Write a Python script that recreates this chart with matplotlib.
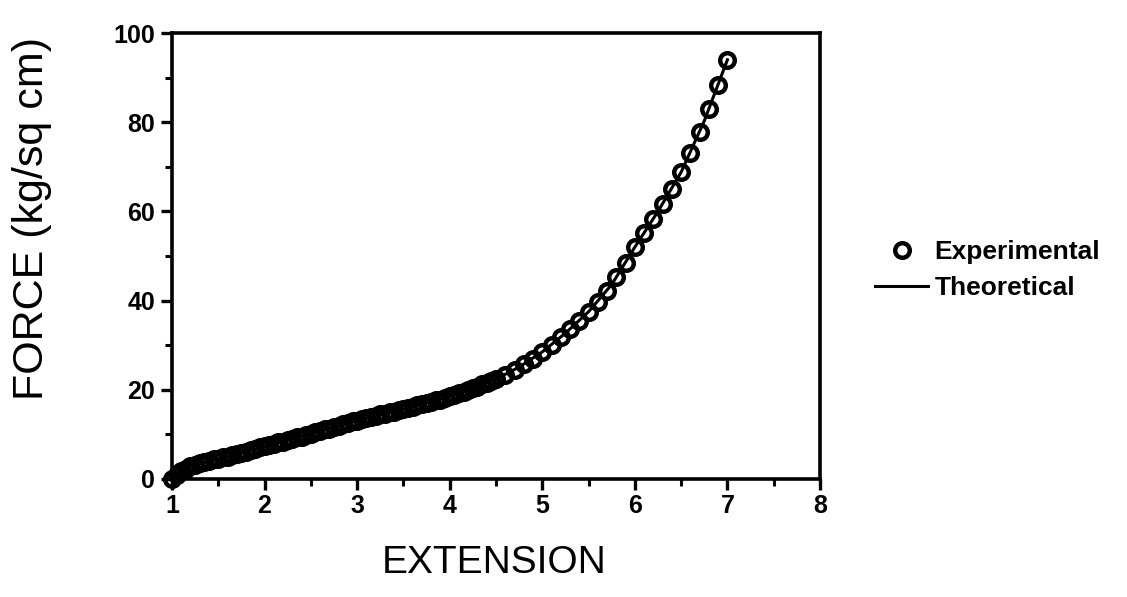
import matplotlib
matplotlib.use("Agg")
import matplotlib.pyplot as plt
from matplotlib.ticker import MultipleLocator

plt.rcParams['font.family'] = ['Liberation Sans', 'DejaVu Sans']

# Experimental data (extension, force)
ext_exp = [1.00, 1.05, 1.10, 1.15, 1.20, 1.25, 1.30, 1.35, 1.40, 1.45,
           1.50, 1.55, 1.60, 1.65, 1.70, 1.75, 1.80, 1.85, 1.90, 1.95,
           2.00, 2.05, 2.10, 2.15, 2.20, 2.25, 2.30, 2.35, 2.40, 2.45,
           2.50, 2.55, 2.60, 2.65, 2.70, 2.75, 2.80, 2.85, 2.90, 2.95,
           3.00, 3.05, 3.10, 3.15, 3.20, 3.25, 3.30, 3.35, 3.40, 3.45,
           3.50, 3.55, 3.60, 3.65, 3.70, 3.75, 3.80, 3.85, 3.90, 3.95,
           4.00, 4.05, 4.10, 4.15, 4.20, 4.25, 4.30, 4.35, 4.40, 4.45,
           4.50, 4.60, 4.70, 4.80, 4.90, 5.00, 5.10, 5.20, 5.30, 5.40,
           5.50, 5.60, 5.70, 5.80, 5.90, 6.00, 6.10, 6.20, 6.30, 6.40,
           6.50, 6.60, 6.70, 6.80, 6.90, 7.00]
force_exp = [0.0, 0.9, 1.8, 2.2, 2.9, 3.1, 3.6, 3.7, 4.0, 4.4,
             4.5, 4.9, 5.0, 5.4, 5.5, 5.9, 6.1, 6.5, 6.7, 7.1,
             7.3, 7.6, 7.8, 8.2, 8.3, 8.7, 8.9, 9.3, 9.5, 9.9,
             10.1, 10.5, 10.7, 11.1, 11.3, 11.7, 11.9, 12.3, 12.5, 12.9,
             13.1, 13.4, 13.6, 14.0, 14.1, 14.5, 14.6, 15.0, 15.1, 15.5,
             15.6, 15.9, 16.1, 16.5, 16.7, 17.0, 17.2, 17.6, 17.8, 18.2,
             18.5, 18.8, 19.2, 19.6, 19.9, 20.3, 20.7, 21.2, 21.5, 22.0,
             22.4, 23.4, 24.5, 25.7, 27.0, 28.5, 30.1, 31.8, 33.7, 35.5,
             37.5, 39.7, 42.1, 45.2, 48.5, 52.0, 55.2, 58.4, 61.6, 65.0,
             68.8, 73.2, 77.8, 82.9, 88.4, 94.0]

# Theoretical curve
ext_th = [1.0, 1.1, 1.2, 1.3, 1.5, 1.75, 2.0, 2.5, 3.0, 3.5, 4.0, 4.25, 4.5,
          4.75, 5.0, 5.25, 5.5, 5.75, 6.0, 6.25, 6.5, 6.75, 7.0]
force_th = [0.0, 1.6, 2.7, 3.4, 4.5, 5.8, 7.3, 10.1, 13.1, 15.6, 18.5, 20.3, 22.4,
            25.1, 28.5, 32.7, 37.5, 43.6, 52.0, 60.0, 68.8, 80.3, 94.0]

x_ticks = [1, 2, 3, 4, 5, 6, 7, 8]
y_ticks = [0, 20, 40, 60, 80, 100]

fig = plt.figure(figsize=(11.27, 5.97), dpi=100)
ax = fig.add_axes([0.1526, 0.1977, 0.5750, 0.7470])

ax.plot(ext_th, force_th, color='black', lw=2.2, label='Theoretical', zorder=2)
ax.plot(ext_exp, force_exp, linestyle='none', marker='o', markersize=10.5,
        markerfacecolor='none', markeredgecolor='black', markeredgewidth=3.2,
        label='Experimental', zorder=3, clip_on=False)

ax.set_xlim(1, 8)
ax.set_ylim(0, 100)
ax.set_xticks(x_ticks)
ax.set_yticks(y_ticks)
ax.xaxis.set_minor_locator(MultipleLocator(0.5))
ax.yaxis.set_minor_locator(MultipleLocator(10))
ax.tick_params(which='major', direction='out', length=8, width=2.4,
               labelsize=18, pad=3)
ax.tick_params(axis='y', which='major', pad=4)
ax.tick_params(which='minor', direction='out', length=5, width=2.2)
for lab in ax.get_xticklabels() + ax.get_yticklabels():
    lab.set_fontweight('bold')
for s in ax.spines.values():
    s.set_linewidth(2.6)

ax.set_xlabel('EXTENSION', fontsize=28)
ax.xaxis.set_label_coords(0.497, -0.148)
ax.set_ylabel('FORCE (kg/sq cm)', fontsize=31)
ax.yaxis.set_label_coords(-0.185, 0.585)

handles, labels = ax.get_legend_handles_labels()
order = [1, 0]
leg = fig.legend([handles[i] for i in order], [labels[i] for i in order],
                 loc='center left', bbox_to_anchor=(0.7555, 0.548),
                 frameon=False, fontsize=19, handlelength=2.0,
                 labelspacing=0.45, handletextpad=0.25)
for t in leg.get_texts():
    t.set_fontweight('bold')

fig.savefig('out.png', dpi=100, facecolor='white')
